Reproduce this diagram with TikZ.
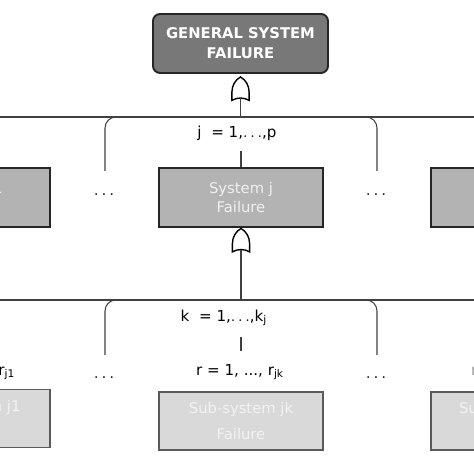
\documentclass[tikz,border=0pt]{standalone}
\usepackage{fontspec}
\setmainfont{DejaVu Sans}
\usepackage{xcolor}
\usepackage{tikz}
\usetikzlibrary{shapes.gates.logic.US}

\definecolor{topfill}{HTML}{787878}
\definecolor{sysfill}{HTML}{B3B3B3}
\definecolor{subfill}{HTML}{D9D9D9}
\definecolor{subedge}{HTML}{5A5A5A}

\begin{document}
\begin{tikzpicture}[
    topbox/.style={draw=black!85, line width=1.1pt, rounded corners=4pt, fill=topfill, text=white, minimum width=3.5cm, minimum height=1.18cm, align=center, font=\bfseries\fontsize{8.4}{11.4}\selectfont},
    sysbox/.style={draw=black!85, line width=1.1pt, fill=sysfill, text=white!94!black, minimum width=3.28cm, minimum height=1.18cm, align=center, font=\fontsize{8.4}{10.8}\selectfont},
    subbox/.style={draw=subedge, line width=1.1pt, fill=subfill, text=white!95!black, minimum width=3.28cm, minimum height=1.16cm, align=center, font=\fontsize{8.4}{14.8}\selectfont},
    orgate/.style={or gate US, draw, line width=0.8pt, rotate=90, scale=0.58, inner sep=0pt, anchor=output},
    wire/.style={draw=black!75, line width=0.6pt},
    rangelabel/.style={font=\fontsize{8.6}{10}\selectfont}
]
\useasboundingbox (0,0) rectangle (9.48,-9.48);
\clip (0,0) rectangle (9.48,-9.48);

% top event
\node[topbox] (gsf) at (4.81,-0.87) {GENERAL SYSTEM\\FAILURE};
\node[orgate] (g1) at ([yshift=-0.05cm]gsf.south) {};

% systems
\node[sysbox] (sys1) at (-0.64,-3.95) {System 1\\Failure};
\node[sysbox] (sysj) at (4.82,-3.95) {System j\\Failure};
\node[sysbox] (sysp) at (10.26,-3.95) {System p\\Failure};
\node (dotsA1) at (2.08,-3.9) {$\ldots$};
\node (dotsA2) at (7.52,-3.9) {$\ldots$};
\node[rangelabel] (jrange) at (4.74,-2.66) {j~ = 1,$\ldots$,p};

\coordinate (busA-w) at (0,-2.34);
\coordinate (busA-e) at (9.48,-2.34);
\coordinate (brA-l) at (2.1,-3.42);
\coordinate (brA-r) at (7.54,-3.42);
\draw[wire] (busA-w) -- (busA-e);
\draw[wire] (g1.west) -- (g1.west |- busA-w);
\draw[wire, rounded corners=0.22cm] (brA-l) |- (busA-w -| sysj) -| (brA-r);
\draw[wire] ([yshift=-0.08cm]jrange.south -| sysj.north) -- (sysj.north);

% sub-systems
\node[orgate] (g2) at (sysj.south) {};
\node[subbox] (sub1) at (-0.64,-8.37) {Sub-system j1\\Failure};
\node[subbox] (subjk) at (4.82,-8.42) {Sub-system jk\\Failure};
\node[subbox] (subkj) at (10.26,-8.42) {Sub-system jk\textsubscript{j}\\Failure};
\node (dotsB1) at (2.08,-7.56) {$\ldots$};
\node (dotsB2) at (7.52,-7.56) {$\ldots$};
\node[rangelabel] (krange) at (4.48,-6.36) {k~ = 1,$\ldots$,k\textsubscript{j}};
\node[rangelabel] (rrange) at (4.8,-7.44) {r = 1, ..., r\textsubscript{jk}};
\node[rangelabel] (rrange1) at (-0.58,-7.44) {r = 1, ..., r\textsubscript{j1}};
\node[rangelabel, text=black!40] (rrangep) at (10.3,-7.44) {r = 1, ..., r\textsubscript{jk}};

\coordinate (busB-w) at (0,-6.0);
\coordinate (busB-e) at (9.48,-6.0);
\coordinate (brB-l) at (2.1,-7.1);
\coordinate (brB-r) at (7.54,-7.1);
\draw[wire] (busB-w) -- (busB-e);
\draw[wire] (g2.west) -- (g2.west |- busB-w);
\draw[wire, rounded corners=0.22cm] (brB-l) |- (busB-w -| subjk) -| (brB-r);
\draw[wire] ([yshift=-0.1cm]krange.south -| subjk.north) -- ([yshift=0.14cm]rrange.north -| subjk.north);
\end{tikzpicture}
\end{document}
